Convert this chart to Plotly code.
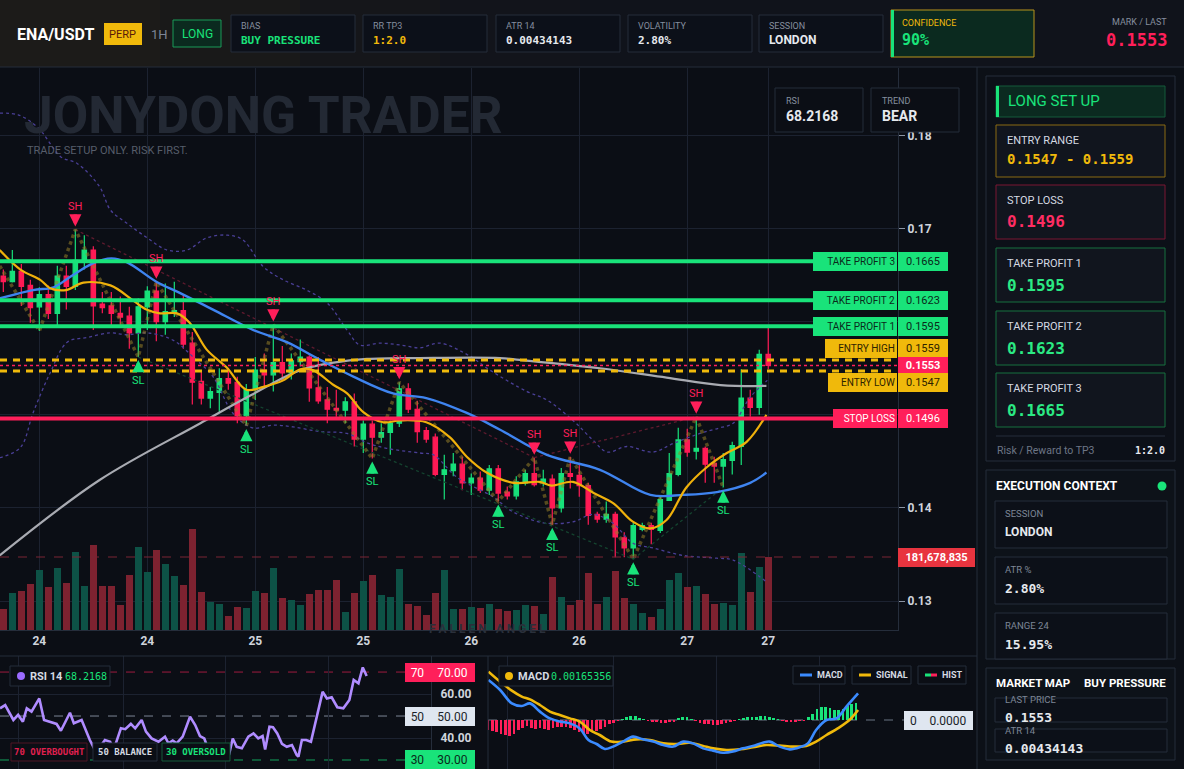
import plotly.graph_objects as go

W, H = 1184, 769

# ---------------- data ----------------
bar_idx = list(range(86))
opens = [0.1649, 0.1643, 0.1654, 0.1639, 0.1616, 0.1629, 0.1609, 0.1649, 0.1638, 0.1666,
         0.1677, 0.1619, 0.1617, 0.1609, 0.1606, 0.1588, 0.1616, 0.1633, 0.1600, 0.1609,
         0.1612, 0.1577, 0.1536, 0.1518, 0.1524, 0.1539, 0.1535, 0.1499, 0.1527, 0.1548,
         0.1543, 0.1556, 0.1545, 0.1557, 0.1562, 0.1529, 0.1516, 0.1507, 0.1505, 0.1514,
         0.1474, 0.1490, 0.1476, 0.1481, 0.1491, 0.1528, 0.1506, 0.1483, 0.1476, 0.1436,
         0.1440, 0.1447, 0.1427, 0.1432, 0.1419, 0.1442, 0.1417, 0.1413, 0.1427, 0.1437,
         0.1427, 0.1431, 0.1400, 0.1437, 0.1435, 0.1424, 0.1393, 0.1388, 0.1393, 0.1368,
         0.1357, 0.1377, 0.1381, 0.1376, 0.1408, 0.1436, 0.1473, 0.1461, 0.1464, 0.1448,
         0.1445, 0.1451, 0.1466, 0.1518, 0.1508, 0.1565]
highs = [0.1656, 0.1677, 0.1662, 0.1645, 0.1637, 0.1639, 0.1660, 0.1660, 0.1699, 0.1693,
         0.1681, 0.1632, 0.1632, 0.1627, 0.1616, 0.1625, 0.1638, 0.1643, 0.1641, 0.1643,
         0.1629, 0.1589, 0.1548, 0.1530, 0.1550, 0.1550, 0.1541, 0.1533, 0.1562, 0.1566,
         0.1597, 0.1574, 0.1566, 0.1581, 0.1564, 0.1562, 0.1530, 0.1527, 0.1519, 0.1523,
         0.1494, 0.1494, 0.1491, 0.1494, 0.1535, 0.1534, 0.1515, 0.1487, 0.1480, 0.1457,
         0.1459, 0.1455, 0.1437, 0.1439, 0.1446, 0.1446, 0.1423, 0.1434, 0.1441, 0.1454,
         0.1441, 0.1436, 0.1443, 0.1455, 0.1448, 0.1427, 0.1396, 0.1407, 0.1396, 0.1374,
         0.1384, 0.1384, 0.1384, 0.1414, 0.1459, 0.1486, 0.1485, 0.1498, 0.1466, 0.1455,
         0.1459, 0.1471, 0.1549, 0.1527, 0.1570, 0.1594]
lows = [0.1632, 0.1642, 0.1617, 0.1599, 0.1590, 0.1603, 0.1596, 0.1613, 0.1634, 0.1656,
        0.1591, 0.1609, 0.1595, 0.1596, 0.1571, 0.1562, 0.1591, 0.1579, 0.1586, 0.1605,
        0.1571, 0.1511, 0.1511, 0.1507, 0.1502, 0.1527, 0.1491, 0.1488, 0.1516, 0.1530,
        0.1525, 0.1536, 0.1538, 0.1552, 0.1514, 0.1512, 0.1491, 0.1498, 0.1491, 0.1466,
        0.1459, 0.1453, 0.1470, 0.1457, 0.1487, 0.1502, 0.1470, 0.1470, 0.1434, 0.1409,
        0.1434, 0.1419, 0.1414, 0.1416, 0.1414, 0.1407, 0.1409, 0.1409, 0.1424, 0.1423,
        0.1423, 0.1382, 0.1395, 0.1421, 0.1412, 0.1382, 0.1384, 0.1384, 0.1347, 0.1347,
        0.1345, 0.1375, 0.1361, 0.1373, 0.1408, 0.1434, 0.1455, 0.1452, 0.1427, 0.1427,
        0.1422, 0.1436, 0.1446, 0.1498, 0.1500, 0.1549]
closes = [0.1643, 0.1654, 0.1638, 0.1615, 0.1629, 0.1609, 0.1649, 0.1638, 0.1666, 0.1677,
          0.1617, 0.1615, 0.1609, 0.1605, 0.1588, 0.1616, 0.1633, 0.1600, 0.1611, 0.1612,
          0.1576, 0.1535, 0.1518, 0.1525, 0.1539, 0.1534, 0.1499, 0.1527, 0.1548, 0.1543,
          0.1556, 0.1545, 0.1558, 0.1562, 0.1529, 0.1515, 0.1506, 0.1505, 0.1514, 0.1474,
          0.1490, 0.1476, 0.1481, 0.1491, 0.1528, 0.1506, 0.1482, 0.1474, 0.1436, 0.1441,
          0.1447, 0.1427, 0.1432, 0.1419, 0.1442, 0.1416, 0.1413, 0.1428, 0.1437, 0.1425,
          0.1431, 0.1400, 0.1437, 0.1434, 0.1424, 0.1392, 0.1388, 0.1393, 0.1369, 0.1357,
          0.1381, 0.1381, 0.1377, 0.1409, 0.1437, 0.1473, 0.1460, 0.1464, 0.1447, 0.1445,
          0.1452, 0.1467, 0.1518, 0.1508, 0.1565, 0.1553]
volumes = [52300000, 92100000, 97800000, 114500000, 149300000, 107000000, 154300000, 117000000, 194100000, 109500000,
           211600000, 109500000, 109500000, 62200000, 136900000, 206600000, 144400000, 199100000, 164300000, 134400000,
           112000000, 251400000, 94600000, 69700000, 64700000, 34800000, 57200000, 54800000, 97100000, 92100000,
           154300000, 79600000, 74700000, 62200000, 89600000, 99600000, 99600000, 124400000, 44800000, 92100000,
           122000000, 136900000, 87100000, 82100000, 151800000, 64700000, 59700000, 37300000, 92100000, 149300000,
           52300000, 52300000, 57200000, 54800000, 64700000, 52300000, 47300000, 49800000, 62200000, 59700000,
           39800000, 131900000, 82100000, 62200000, 74700000, 141900000, 64700000, 82100000, 146900000, 79600000,
           64700000, 42300000, 32400000, 52300000, 124400000, 141900000, 107000000, 109500000, 89600000, 64700000,
           67200000, 62200000, 191700000, 94600000, 156800000, 181678835]

date_ticks = [4, 16, 28, 40, 52, 64, 76, 85]
date_labels = ["24", "24", "25", "25", "26", "26", "27", "27"]
price_ticks = [0.13, 0.14, 0.15, 0.16, 0.17, 0.18]
price_tick_labels = ["0.13", "0.14", "", "", "0.17", "0.18"]  # 0.15 / 0.16 sit under the level tags

ema_fast_t = [-0.4, 1.9, 4.1, 5.2, 7.0, 8.9, 11.9, 14.4, 15.9, 17.4, 19.3, 20.7, 22.6, 24.8, 27.0, 28.9, 31.1,
              33.0, 34.4, 36.7, 38.2, 40.0, 42.2, 44.1, 47.0, 49.6, 51.5, 53.7, 56.7, 59.6, 60.9, 63.3, 65.6,
              67.8, 70.0, 71.9, 73.7, 75.9, 78.2, 80.4, 82.6, 84.8]
ema_fast = [0.1677, 0.1656, 0.1645, 0.1636, 0.1634, 0.1642, 0.1639, 0.1623, 0.1613, 0.1609, 0.1609, 0.1599,
            0.1570, 0.1551, 0.1527, 0.1530, 0.1537, 0.1549, 0.1548, 0.1532, 0.1523, 0.1503, 0.1492, 0.1494,
            0.1492, 0.1476, 0.1455, 0.1438, 0.1427, 0.1428, 0.1424, 0.1428, 0.1416, 0.1405, 0.1385, 0.1378,
            0.1387, 0.1422, 0.1444, 0.1459, 0.1471, 0.1500]
ema_slow_t = [-0.4, 3.3, 5.6, 7.4, 10.0, 12.0, 13.7, 17.0, 19.6, 23.3, 27.8, 31.5, 35.2, 38.9, 43.3, 47.0,
              51.5, 55.2, 60.4, 66.3, 71.9, 75.6, 79.3, 83.0, 84.8]
ema_slow = [0.1625, 0.1634, 0.1637, 0.1648, 0.1663, 0.1668, 0.1664, 0.1643, 0.1631, 0.1613, 0.1591, 0.1578,
            0.1559, 0.1541, 0.1523, 0.1518, 0.1502, 0.1484, 0.1457, 0.1441, 0.1414, 0.1414, 0.1417, 0.1427, 0.1438]
ma_long_t = [-0.4, 10.7, 21.9, 27.5, 33.0, 36.7, 40.4, 46.3, 55.2, 57.4, 66.3, 73.7, 79.7, 84.8]
ma_long = [0.1349, 0.1430, 0.1491, 0.1521, 0.1548, 0.1556, 0.1560, 0.1561, 0.1561, 0.1559, 0.1550, 0.1540,
           0.1532, 0.1531]
bb_up_t = [-0.4, 1.7, 3.9, 6.4, 8.2, 10.7, 11.9, 13.7, 16.0, 18.2, 20.4, 22.6, 24.9, 26.6, 28.9, 31.1, 33.7,
           36.0, 38.2, 39.6, 41.9, 44.1, 46.3, 48.5, 51.5, 54.4, 58.2, 60.4, 63.3, 65.5, 67.1, 69.3, 72.2, 74.4,
           77.4, 79.6, 81.1, 83.0, 84.9]
bb_up = [0.1824, 0.1822, 0.1808, 0.1777, 0.1770, 0.1745, 0.1720, 0.1706, 0.1690, 0.1677, 0.1677, 0.1690,
         0.1693, 0.1688, 0.1659, 0.1645, 0.1634, 0.1620, 0.1591, 0.1575, 0.1577, 0.1575, 0.1572, 0.1577, 0.1565,
         0.1546, 0.1525, 0.1516, 0.1494, 0.1473, 0.1460, 0.1466, 0.1460, 0.1469, 0.1480, 0.1486, 0.1491, 0.1519,
         0.1537]
bb_low_t = [-0.4, 1.9, 3.3, 5.2, 7.1, 9.3, 11.9, 13.7, 16.0, 18.9, 21.1, 23.3, 25.5, 27.7, 30.0, 32.2, 35.2,
            38.2, 40.4, 42.6, 46.3, 47.8, 50.4, 54.4, 56.6, 60.0, 63.3, 65.5, 67.7, 70.0, 72.2, 75.5, 79.3, 81.1,
            84.9]
bb_low = [0.1454, 0.1465, 0.1502, 0.1545, 0.1578, 0.1583, 0.1588, 0.1586, 0.1588, 0.1580, 0.1562, 0.1541,
          0.1502, 0.1486, 0.1489, 0.1487, 0.1482, 0.1480, 0.1470, 0.1464, 0.1459, 0.1457, 0.1433, 0.1412, 0.1396,
          0.1384, 0.1385, 0.1393, 0.1384, 0.1362, 0.1357, 0.1349, 0.1346, 0.1344, 0.1320]

zigzag_t = [-0.4, 4, 8, 15, 17, 27, 30, 41, 44, 55, 59, 61, 63, 70, 77, 80]
zigzag_p = [0.1660, 0.1590, 0.1699, 0.1562, 0.1643, 0.1488, 0.1597, 0.1453, 0.1535, 0.1407, 0.1454, 0.1382,
            0.1455, 0.1345, 0.1498, 0.1422]
res_t = [8, 59, None, 59, 77]
res_p = [0.1699, 0.1454, None, 0.1454, 0.1498]
sup_t = [15, 70, None, 70, 80]
sup_p = [0.1562, 0.1345, None, 0.1345, 0.1422]

swing_high_idx = [8, 17, 30, 44, 59, 63, 77]
swing_low_idx = [15, 27, 41, 55, 61, 70, 80]

tp_names = ["TAKE PROFIT 1", "TAKE PROFIT 2", "TAKE PROFIT 3"]
tp_levels = [0.1595, 0.1623, 0.1665]
entry_low, entry_high = 0.1547, 0.1559
stop_loss = 0.1496
last_price = 0.1553

rsi_t = [0.0, 1.2, 3.1, 4.2, 5.3, 6.2, 7.3, 9.1, 10.2, 11.6, 13.1, 14.1, 16.2, 17.1, 18.9, 20.8, 22.0, 23.2,
         24.3, 25.5, 26.3, 28.0, 29.0, 30.3, 31.3, 32.8, 33.8, 35.1, 36.7, 38.2, 39.0, 40.0, 40.9, 42.3, 44.0,
         45.2, 46.3, 47.3, 48.3, 50.0, 51.7, 53.1, 53.9, 54.8, 56.0, 57.5, 58.7, 59.8, 60.8, 61.4, 62.4, 63.2,
         64.2, 65.3, 66.4, 67.6, 68.7, 69.1, 69.9, 70.9, 72.0, 73.4, 74.7, 75.7, 76.8, 78.1, 79.5, 80.9, 81.9,
         83.0, 84.0, 84.9]
rsi_v = [53.5, 55.0, 48.2, 50.5, 47.4, 53.5, 52.0, 58.0, 48.2, 47.4,
         46.4, 43.3, 51.5, 46.7, 48.2, 39.1, 34.5, 36.0, 39.1, 38.3,
         34.5, 44.4, 44.0, 46.4, 44.4, 48.2, 42.9, 39.8, 38.3, 40.6,
         37.6, 38.8, 37.6, 40.6, 49.7, 45.9, 40.9, 39.8, 34.5, 36.0,
         34.5, 33.0, 39.8, 36.0, 35.3, 40.6, 42.1, 39.8, 40.9, 34.8,
         45.1, 44.9, 42.1, 37.3, 36.0, 36.8, 32.3, 31.5, 39.1, 39.1,
         38.3, 49.7, 61.0, 58.0, 58.5, 54.0, 53.5, 57.3, 66.4, 64.9,
         72.1, 68.2]

macd_t = [0.1, 2.8, 5.5, 7.8, 9.7, 12.0, 14.3, 16.6, 18.9, 21.2, 23.2, 25.1, 27.0, 28.9, 31.2, 33.5, 35.8, 38.2,
          40.5, 42.8, 45.1, 47.4, 49.7, 52.0, 54.3, 56.6, 58.9, 61.2, 63.5, 65.1, 67.4, 69.7, 72.0, 73.9, 75.8,
          78.2, 80.5, 82.8, 85.5]
macd_v = [0.00248, 0.00186, 0.00103, 0.00087, 0.00103, 0.00052, 0.00010, -0.00010, -0.00021, -0.00052,
          -0.00124, -0.00149, -0.00180, -0.00165, -0.00134, -0.00103, -0.00120, -0.00134, -0.00155, -0.00165,
          -0.00134, -0.00145, -0.00176, -0.00190, -0.00203, -0.00196, -0.00176, -0.00161, -0.00141, -0.00134,
          -0.00165, -0.00182, -0.00169, -0.00145, -0.00062, 0.0, 0.00010, 0.00083, 0.00165]
signal_t = [0.1, 2.8, 5.5, 7.8, 9.7, 12.0, 14.3, 16.6, 18.9, 21.2, 23.5, 25.8, 28.5, 31.2, 34.3, 37.4, 40.5,
            43.5, 46.6, 49.7, 52.0, 55.1, 58.2, 61.2, 64.3, 67.4, 70.5, 73.5, 75.8, 78.2, 80.8, 83.5, 85.5]
signal_v = [0.00300, 0.00238, 0.00182, 0.00145, 0.00128, 0.00093, 0.00052, 0.00031, 0.00010, -0.00010,
            -0.00062, -0.00093, -0.00134, -0.00134, -0.00120, -0.00124, -0.00145, -0.00149, -0.00141, -0.00161,
            -0.00176, -0.00186, -0.00182, -0.00169, -0.00155, -0.00159, -0.00165, -0.00161, -0.00134, -0.00093,
            -0.00052, 0.0, 0.00062]
hist_v = [-0.00062, -0.00068, -0.00074, -0.00087, -0.00093, -0.00099, -0.00087, -0.00062, -0.00050, -0.00037,
          -0.00050, -0.00056, -0.00050, -0.00056, -0.00062, -0.00050, -0.00043, -0.00043, -0.00043, -0.00050,
          -0.00062, -0.00074, -0.00081, -0.00087, -0.00074, -0.00068, -0.00056, -0.00043, -0.00025, -0.00019,
          -0.00006, 0.00006, 0.00019, 0.00025, 0.00025, 0.00012, 0.00006, -0.00006, -0.00009, -0.00012,
          -0.00019, -0.00019, -0.00012, -0.00012, 0.00009, 0.00016, 0.00016, 0.00006, -0.00006, -0.00019,
          -0.00022, -0.00025, -0.00031, -0.00028, -0.00022, -0.00016, -0.00009, -0.00006, 0.00006, 0.00012,
          0.00016, 0.00019, 0.00019, 0.00025, 0.00025, 0.00019, 0.00012, 0.00006, -0.00006, -0.00009,
          -0.00012, -0.00009, -0.00006, -0.00003, 0.00019, 0.00037, 0.00068, 0.00081, 0.00081, 0.00074,
          0.00062, 0.00062, 0.00068, 0.00087, 0.00099, 0.00103]

# ---------------- styling ----------------
BG = "#0b0e15"
TOPBG = "#10131b"
GRID = "#1c2230"
BORDER = "#252d3b"
GREEN = "#19e37a"
RED = "#ff1f5a"
YELLOW = "#f0b90b"
WHITE = "#e6e9ee"
GRAY = "#858e9e"
CG = "#17e07a"
CR = "#ff1a55"
SANS = "Roboto, sans-serif"
MONO = "DejaVu Sans Mono, monospace"


def X(px):
    return px / W


def Y(py):
    return 1 - py / H


shp = []
ann = []


def rect(x0, y0, x1, y1, fill, line=None, lw=1, layer="above"):
    shp.append(dict(type="rect", xref="paper", yref="paper", x0=X(x0), x1=X(x1), y0=Y(y1), y1=Y(y0),
                    fillcolor=fill, line=dict(color=line or fill, width=lw if line else 0), layer=layer))


def seg(x0, y0, x1, y1, color, w=1, dash="solid", layer="above"):
    shp.append(dict(type="line", xref="paper", yref="paper", x0=X(x0), x1=X(x1), y0=Y(y0), y1=Y(y1),
                    line=dict(color=color, width=w, dash=dash), layer=layer))


def dot(cx, cy, r, color):
    shp.append(dict(type="circle", xref="paper", yref="paper", x0=X(cx - r), x1=X(cx + r), y0=Y(cy + r),
                    y1=Y(cy - r), fillcolor=color, line=dict(width=0), layer="above"))


def text(x, y, s, size=11, color=WHITE, fam=SANS, anchor="left", bold=False):
    ann.append(dict(xref="paper", yref="paper", x=X(x), y=Y(y), text="<b>%s</b>" % s if bold else s,
                    showarrow=False, xanchor=anchor, yanchor="middle", borderpad=0,
                    font=dict(family=fam, size=size, color=color)))


def tag(x, y, yref, s, w, h, bg, fg, anchor, align, size=10, fam=SANS, yshift=0):
    ann.append(dict(xref="paper", yref=yref, x=X(x), y=y, text=s, showarrow=False, xanchor=anchor,
                    yanchor="middle", width=w - 4, height=h - 4, borderpad=2, borderwidth=0, bgcolor=bg,
                    align=align, yshift=yshift, font=dict(family=fam, size=size, color=fg)))


fig = go.Figure()

# volume on the base axis so it sits under the price traces
vol_colors = ["#0d5246" if c >= o else "#7d2230" for o, c in zip(opens, closes)]
fig.add_trace(go.Bar(x=bar_idx, y=volumes, marker=dict(color=vol_colors, line=dict(width=0)), width=0.8,
                     xaxis="x", yaxis="y", hoverinfo="skip", showlegend=False))

fig.add_trace(go.Candlestick(x=bar_idx, open=opens, high=highs, low=lows, close=closes,
                             increasing=dict(line=dict(color=CG, width=1.2), fillcolor=CG),
                             decreasing=dict(line=dict(color=CR, width=1.2), fillcolor=CR),
                             whiskerwidth=0, xaxis="x", yaxis="y2", hoverinfo="skip", showlegend=False))

for tx, ty in [(bb_up_t, bb_up), (bb_low_t, bb_low)]:
    fig.add_trace(go.Scatter(x=tx, y=ty, mode="lines", xaxis="x", yaxis="y2", hoverinfo="skip",
                             line=dict(color="#4a3f96", width=1.3, dash="dot", shape="spline"), showlegend=False))
fig.add_trace(go.Scatter(x=res_t, y=res_p, mode="lines", xaxis="x", yaxis="y2", hoverinfo="skip",
                         line=dict(color="#5e1a2e", width=1.3, dash="dot"), showlegend=False))
fig.add_trace(go.Scatter(x=sup_t, y=sup_p, mode="lines", xaxis="x", yaxis="y2", hoverinfo="skip",
                         line=dict(color="#14432f", width=1.3, dash="dot"), showlegend=False))
fig.add_trace(go.Scatter(x=zigzag_t, y=zigzag_p, mode="lines", xaxis="x", yaxis="y2", hoverinfo="skip",
                         line=dict(color="rgba(150,125,40,0.55)", width=3.5, dash="dot"), showlegend=False))
fig.add_trace(go.Scatter(x=ma_long_t, y=ma_long, mode="lines", xaxis="x", yaxis="y2", hoverinfo="skip",
                         line=dict(color="#a9abb2", width=2.2, shape="spline"), showlegend=False))
fig.add_trace(go.Scatter(x=ema_slow_t, y=ema_slow, mode="lines", xaxis="x", yaxis="y2", hoverinfo="skip",
                         line=dict(color="#3f84f0", width=2.4, shape="spline"), showlegend=False))
fig.add_trace(go.Scatter(x=ema_fast_t, y=ema_fast, mode="lines", xaxis="x", yaxis="y2", hoverinfo="skip",
                         line=dict(color="#f0b10b", width=2.2, shape="spline"), showlegend=False))

# RSI
fig.add_trace(go.Scatter(x=rsi_t, y=rsi_v, mode="lines", xaxis="x3", yaxis="y3", hoverinfo="skip",
                         line=dict(color="#b08cff", width=2.6), showlegend=False))

# MACD
hist_colors = [GREEN if v >= 0 else RED for v in hist_v]
fig.add_trace(go.Bar(x=bar_idx, y=hist_v, marker=dict(color=hist_colors, line=dict(width=0)), width=0.62,
                     xaxis="x4", yaxis="y4", hoverinfo="skip", showlegend=False))
fig.add_trace(go.Scatter(x=signal_t, y=signal_v, mode="lines", xaxis="x4", yaxis="y4", hoverinfo="skip",
                         line=dict(color="#f0b90b", width=2.6, shape="spline"), showlegend=False))
fig.add_trace(go.Scatter(x=macd_t, y=macd_v, mode="lines", xaxis="x4", yaxis="y4", hoverinfo="skip",
                         line=dict(color="#3b8bff", width=2.6, shape="spline"), showlegend=False))

# ---------------- frame / panels ----------------
rect(0, 0, W, 67, TOPBG, layer="below")
for x1, a in [(160, 0.05), (300, 0.05), (440, 0.04), (580, 0.03)]:
    rect(0, 0, x1, 67, "rgba(90,75,25,%s)" % a, layer="below")
rect(977, 67, W, H, "#0c1017", layer="below")
seg(0, 67, W, 67, BORDER, 1)
seg(977, 67, 977, H, BORDER, 1)
seg(0, 656, 977, 656, BORDER, 1)
seg(488, 656, 488, H, BORDER, 1)

# top bar
text(16, 34, "ENA/USDT", 16, "#ffffff", SANS, bold=True)
rect(104, 23, 142, 45, YELLOW)
text(123, 34, "PERP", 11, "#5a1a08", SANS, anchor="center")
text(150, 34, "1H", 13, "#7d8696", SANS)
rect(173, 20, 221, 47, "#0b2a1f", "#1b9a58")
text(197, 34, "LONG", 12, GREEN, SANS, anchor="center")
for x0, lab, val, col, fam in [(231, "BIAS", "BUY PRESSURE", GREEN, MONO),
                               (363, "RR TP3", "1:2.0", YELLOW, MONO),
                               (496, "ATR 14", "0.00434143", WHITE, MONO),
                               (628, "VOLATILITY", "2.80%", WHITE, MONO),
                               (759, "SESSION", "LONDON", WHITE, SANS)]:
    rect(x0, 15, x0 + 124, 52, "#0c1019", BORDER)
    text(x0 + 9, 26, lab, 9, GRAY, SANS)
    text(x0 + 9, 40, val, 11 if fam == MONO else 12, col, fam, bold=True)
rect(891, 10, 1034, 57, "#0b2a1f", "#b8941c")
rect(891, 10, 894, 57, GREEN)
text(901, 23, "CONFIDENCE", 9, YELLOW, SANS)
text(901, 40, "90%", 15, GREEN, MONO, bold=True)
text(1168, 22, "MARK / LAST", 9, GRAY, SANS, anchor="right")
text(1168, 40, "%.4f" % last_price, 17, RED, MONO, anchor="right", bold=True)

# watermark + info boxes in main chart
text(23, 115, "JONYDONG TRADER", 51.5, "#232934", SANS, bold=True)
text(26, 150, "TRADE SETUP ONLY. RISK FIRST.", 11, "#565d6a", SANS)
text(487, 629, "F A L L E N   A N G E L", 12, "#2a303b", SANS, anchor="center", bold=True)
rect(775, 88, 863, 132, BG, BORDER)
text(785, 101, "RSI", 9, GRAY, SANS)
text(785, 116, "68.2168", 14, WHITE, SANS, bold=True)
rect(871, 88, 959, 132, BG, BORDER)
text(881, 101, "TREND", 9, GRAY, SANS)
text(881, 116, "BEAR", 14, WHITE, SANS, bold=True)

# price levels
for p in tp_levels:
    shp.append(dict(type="line", xref="paper", yref="y2", x0=0, x1=X(813), y0=p, y1=p,
                    line=dict(color=GREEN, width=4), layer="above"))
for p in [entry_high, entry_low]:
    shp.append(dict(type="line", xref="paper", yref="y2", x0=0, x1=X(894), y0=p, y1=p,
                    line=dict(color=YELLOW, width=3, dash="7px,6px"), layer="above"))
shp.append(dict(type="line", xref="paper", yref="y2", x0=0, x1=X(898), y0=last_price, y1=last_price,
                line=dict(color=RED, width=1.5, dash="dot"), layer="above"))
shp.append(dict(type="line", xref="paper", yref="y2", x0=0, x1=X(833), y0=stop_loss, y1=stop_loss,
                line=dict(color=RED, width=4), layer="above"))
shp.append(dict(type="line", xref="paper", yref="y", x0=0, x1=X(898), y0=volumes[-1], y1=volumes[-1],
                line=dict(color="#7a2435", width=1, dash="dash"), layer="above"))

for name, p in zip(tp_names, tp_levels):
    tag(897, p, "y2", name, 84, 19, GREEN, "#0a2a1a", "right", "right")
    tag(898, p, "y2", "%.4f" % p, 50, 19, GREEN, "#0a2a1a", "left", "center", 11)
tag(897, entry_high, "y2", "ENTRY HIGH", 72, 19, YELLOW, "#2e2200", "right", "right", yshift=11)
tag(898, entry_high, "y2", "%.4f" % entry_high, 50, 19, YELLOW, "#2e2200", "left", "center", 11, yshift=11)
tag(897, entry_low, "y2", "ENTRY LOW", 69, 19, YELLOW, "#2e2200", "right", "right", yshift=-11)
tag(898, entry_low, "y2", "%.4f" % entry_low, 50, 19, YELLOW, "#2e2200", "left", "center", 11, yshift=-11)
tag(898, last_price, "y2", "<b>%.4f</b>" % last_price, 50, 16, RED, "#ffffff", "left", "center", 11)
tag(897, stop_loss, "y2", "STOP LOSS", 64, 19, RED, "#ffffff", "right", "right")
tag(898, stop_loss, "y2", "%.4f" % stop_loss, 50, 19, RED, "#ffffff", "left", "center", 11)
tag(898, volumes[-1], "y", "<b>{:,}</b>".format(volumes[-1]), 77, 19, "#e8343f", "#ffffff", "left", "center", 11)

for k in swing_high_idx:
    ann.append(dict(x=k, y=highs[k], xref="x", yref="y2", text="SH", showarrow=True, arrowhead=2,
                    arrowsize=0.7, arrowwidth=3.5, arrowcolor=RED, ax=0, ay=-23, standoff=3,
                    font=dict(size=11, color=RED, family=SANS)))
for k in swing_low_idx:
    ann.append(dict(x=k, y=lows[k], xref="x", yref="y2", text="SL", showarrow=True, arrowhead=2,
                    arrowsize=0.7, arrowwidth=3.5, arrowcolor=GREEN, ax=0, ay=23, standoff=3,
                    font=dict(size=11, color=GREEN, family=SANS)))

# RSI panel decorations
for lvl, col in [(70, "#9e1b3e"), (50, "#7d8696"), (30, "#13a35c")]:
    shp.append(dict(type="line", xref="x3 domain", yref="y3", x0=0, x1=1, y0=lvl, y1=lvl,
                    line=dict(color=col, width=1, dash="dash"), layer="below"))
rect(10, 666, 110, 686, BG, BORDER)
dot(21, 676, 4, "#9b6bff")
text(29, 676, "RSI 14", 11, "#d5dae2", SANS, bold=True)
text(64, 676, "68.2168", 10, GREEN, MONO)
for x0, x1, s, fg, bd in [(11, 87, "70 OVERBOUGHT", "#e0204f", "#4e1424"),
                          (93, 157, "50 BALANCE", "#d5dae2", BORDER),
                          (162, 230, "30 OVERSOLD", GREEN, "#145a3a")]:
    rect(x0, 743, x1, 761, BG, bd)
    text((x0 + x1) / 2, 752, s, 9, fg, MONO, anchor="center", bold=True)
for lvl, bg, fg in [(70, RED, "#ffffff"), (50, "#dfe6f0", "#1a1f29"), (30, GREEN, "#0a2a1a")]:
    tag(405, lvl, "y3", str(lvl), 25, 19, bg, fg, "left", "center", 12)
    tag(430, lvl, "y3", "%.2f" % lvl, 45, 19, bg, fg, "left", "center", 12)

# MACD panel decorations
shp.append(dict(type="line", xref="paper", yref="y4", x0=X(488), x1=X(904), y0=0, y1=0,
                line=dict(color="#6b7484", width=1, dash="dash"), layer="below"))
tag(904, 0, "y4", "0", 19, 19, "#dfe6f0", "#1a1f29", "left", "center", 12)
tag(923, 0, "y4", "0.0000", 50, 19, "#dfe6f0", "#1a1f29", "left", "center", 12)
rect(499, 666, 613, 686, BG, BORDER)
dot(509, 676, 4, YELLOW)
text(517, 676, "MACD", 11, "#d5dae2", SANS, bold=True)
text(550, 676, "0.00165356", 10, GREEN, MONO)
for x0, x1, s, c1, c2 in [(793, 845, "MACD", "#3b8bff", "#3b8bff"),
                          (852, 911, "SIGNAL", YELLOW, YELLOW),
                          (918, 966, "HIST", GREEN, RED)]:
    rect(x0, 666, x1, 684, BG, BORDER)
    seg(x0 + 7, 675, x0 + 13, 675, c1, 3)
    seg(x0 + 13, 675, x0 + 19, 675, c2, 3)
    text(x0 + 23, 675, s, 9, "#d5dae2", SANS, bold=True)

# right panel: setup
rect(986, 76, 1175, 461, "#0c1018", BORDER)
rect(996, 86, 1165, 117, "#0b2a20", "#145a3a")
rect(996, 86, 999, 117, GREEN)
text(1007, 101, "LONG SET UP", 15, GREEN, SANS)
rect(996, 125, 1165, 177, "#11151e", "#8a6a12")
text(1006, 140, "ENTRY RANGE", 11, "#d5dae2", SANS)
text(1006, 159, "%.4f - %.4f" % (entry_low, entry_high), 14, YELLOW, MONO, bold=True)
rect(996, 185, 1165, 239, "#11151e", "#7a1632")
text(1006, 200, "STOP LOSS", 11, "#d5dae2", SANS)
text(1006, 222, "%.4f" % stop_loss, 16, "#ff2d63", MONO, bold=True)
for (y0, y1), name, p in zip([(248, 302), (311, 365), (373, 427)], tp_names, tp_levels):
    rect(996, y0, 1165, y1, "#11151e", "#16713f")
    text(1006, y0 + 15, name, 11, "#d5dae2", SANS)
    text(1006, y0 + 37, "%.4f" % p, 16, "#2bea84", MONO, bold=True)
seg(996, 436, 1165, 436, BORDER, 1)
text(996, 450, "Risk / Reward to TP3", 10.5, "#6d7686", SANS)
text(1166, 450, "1:2.0", 10, WHITE, MONO, anchor="right", bold=True)

# right panel: execution context
rect(986, 470, 1175, 659, "#0d1219", BORDER)
text(995, 486, "EXECUTION CONTEXT", 12, "#ffffff", SANS, bold=True)
dot(1162, 486, 4.5, "#19e57a")
for y0, lab, val, fam in [(501, "SESSION", "LONDON", SANS), (557, "ATR %", "2.80%", MONO),
                          (613, "RANGE 24", "15.95%", MONO)]:
    rect(995, y0, 1167, min(y0 + 47, 659), "#0c1018", BORDER)
    text(1004, y0 + 12, lab, 9.5, "#7d8696", SANS)
    text(1004, y0 + 31, val, 12 if fam == SANS else 13, WHITE, fam, bold=True)

# right panel: market map
rect(986, 668, 1175, 760, "#0d1219", BORDER)
text(995, 683, "MARKET MAP", 11.5, "#ffffff", SANS, bold=True)
text(1167, 683, "BUY PRESSURE", 11.5, "#ffffff", SANS, anchor="right", bold=True)
for y0, y1, lab, val in [(698, 722, "LAST PRICE", "%.4f" % last_price), (729, 752, "ATR 14", "0.00434143")]:
    rect(995, y0, 1167, y1, "#0c1018", BORDER)
    text(1004, y0 + 1, lab, 9.5, "#7d8696", SANS)
    text(1004, y0 + 19, val, 13, WHITE, MONO, bold=True)

tickfont = dict(family=SANS, size=12, color="#cfd4dc")
fig.update_layout(
    width=W, height=H, margin=dict(l=0, r=0, t=0, b=0),
    paper_bgcolor=BG, plot_bgcolor="rgba(0,0,0,0)", showlegend=False, bargap=0,
    xaxis=dict(domain=[0, X(898)], range=[-0.37, 99.42], anchor="y", tickvals=date_ticks,
               ticktext=["<b>%s</b>" % s for s in date_labels], tickfont=tickfont, showgrid=True,
               gridcolor=GRID, zeroline=False, showline=True, linecolor=BORDER, ticks="",
               rangeslider=dict(visible=False), fixedrange=True),
    yaxis=dict(domain=[Y(630), Y(68)], range=[0, 1.3988e9], visible=False, fixedrange=True),
    yaxis2=dict(domain=[Y(630), Y(68)], range=[0.12689, 0.18725], overlaying="y", anchor="x", side="right",
                tickvals=price_ticks, ticktext=["<b>%s</b>" % s if s else "" for s in price_tick_labels],
                tickfont=tickfont, showgrid=True, gridcolor=GRID, zeroline=False, showline=True,
                linecolor=BORDER, ticks="outside", ticklen=6, tickcolor="#8a93a3", fixedrange=True),
    xaxis3=dict(domain=[0, X(431)], range=[0, 99.8], anchor="y3", tickvals=[4.2, 28.5, 52.3, 76.0],
                showticklabels=False, showgrid=True, gridcolor=GRID, zeroline=False, showline=False,
                fixedrange=True),
    yaxis3=dict(domain=[0, Y(656)], range=[25.9, 77.3], anchor="x3", side="right", tickvals=[40, 60],
                ticktext=["<b>40.00</b>", "<b>60.00</b>"], tickfont=tickfont, showgrid=True, gridcolor=GRID,
                zeroline=False, showline=True, linecolor=BORDER, ticks="outside", ticklen=6,
                tickcolor="rgba(0,0,0,0)", fixedrange=True),
    xaxis4=dict(domain=[X(488), X(923)], range=[0, 100.5], anchor="y4", tickvals=[4.6, 28.9, 52.9, 76.7, 100.4],
                showticklabels=False, showgrid=True, gridcolor=GRID, zeroline=False, showline=False,
                fixedrange=True),
    yaxis4=dict(domain=[0, Y(656)], range=[-0.00304, 0.00397], anchor="x4", showticklabels=False,
                showgrid=False, zeroline=False, showline=False, fixedrange=True),
    shapes=shp, annotations=ann,
)

fig.write_html("out.html", config={"displayModeBar": False},
               post_script="document.body.style.margin='0';document.body.style.background='%s';" % BG)
